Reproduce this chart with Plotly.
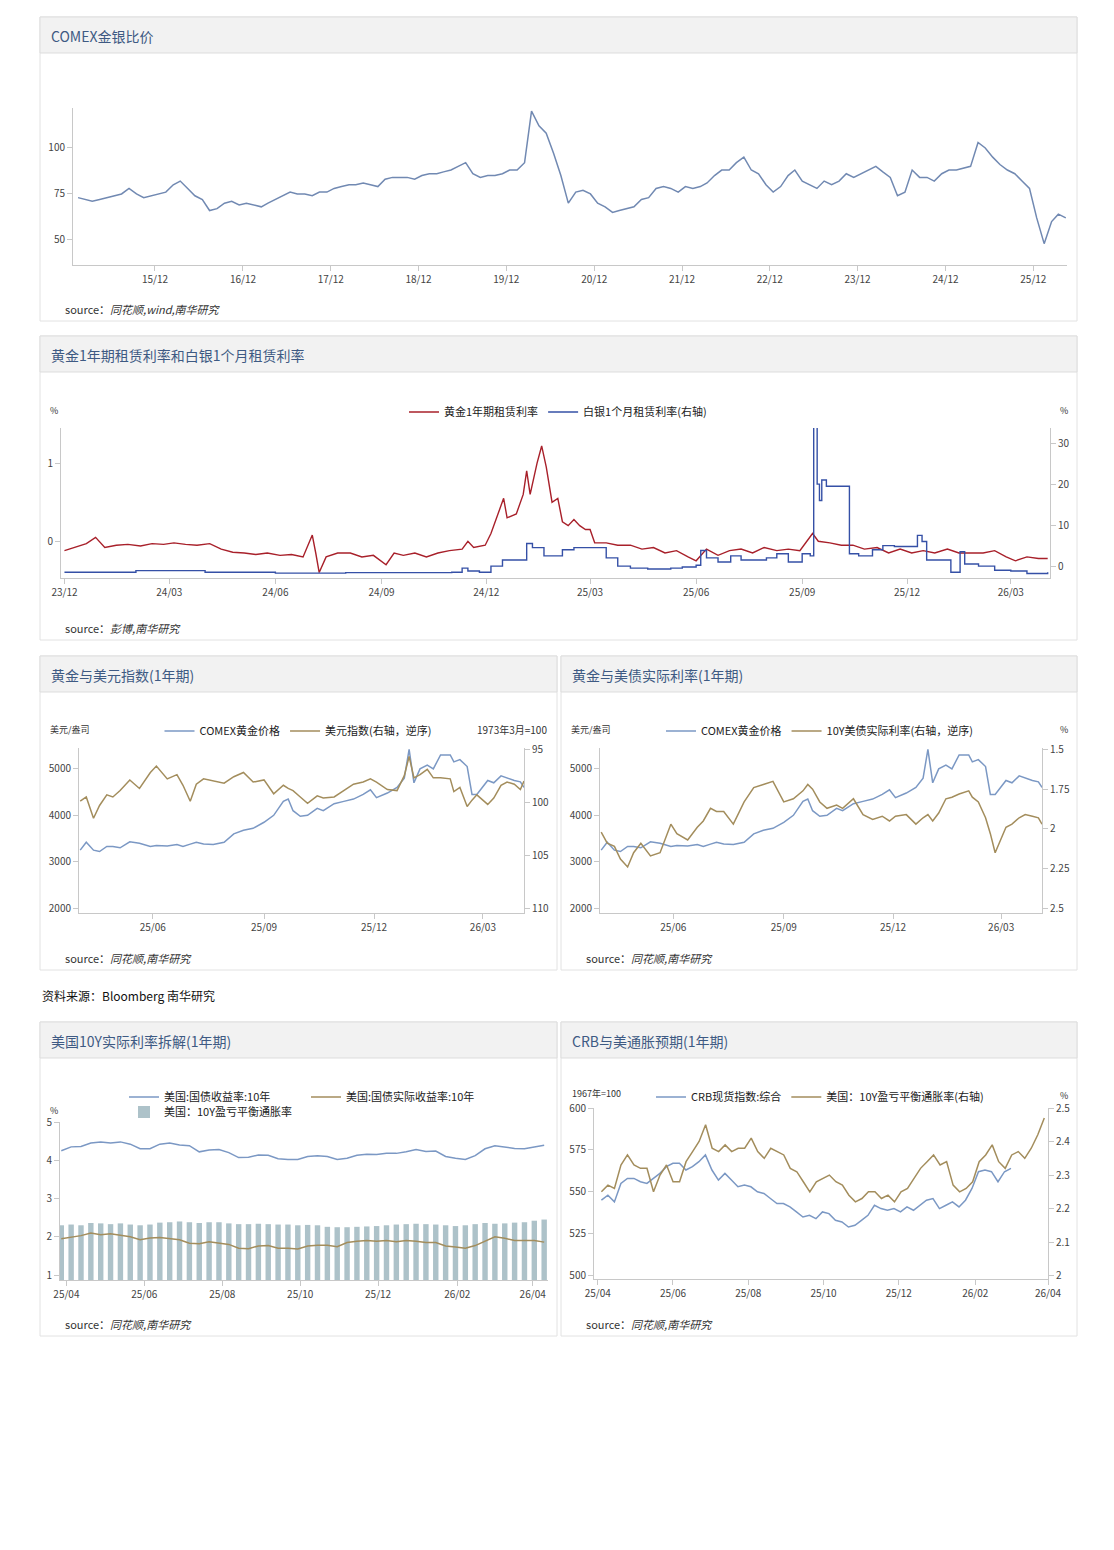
import plotly.graph_objects as go
import pandas as pd

W, H = 1114, 1550
def fx(p): return p / W
def fy(p): return 1 - p / H

FONT = "Noto Sans CJK SC"

# ---------------- data ----------------
# P1 COMEX gold/silver ratio, monthly 2015-01 .. 2026-04
ratio = [73,72,71,72,73,74,75,78,75,73,74,75,
         76,80,82,78,74,72,66,67,70,71,69,70,
         69,68,70,72,74,76,75,75,74,76,76,78,
         79,80,80,81,80,79,83,84,84,84,83,85,
         86,86,87,88,90,92,86,84,85,85,86,88,
         88,92,120,112,108,97,85,70,76,77,75,70,
         68,65,66,67,68,72,73,78,79,78,76,79,
         78,79,81,85,88,88,92,95,88,86,80,76,
         79,85,88,82,80,78,82,80,82,86,84,86,
         88,90,87,84,74,76,88,84,84,82,86,88,
         88,89,90,103,100,95,91,88,86,82,78,62,
         48,60,64,62]
ratio_dates = pd.date_range("2015-01-01", periods=len(ratio), freq="MS") + pd.Timedelta(days=14)
ratio_ticks = ["2015-12-01","2016-12-01","2017-12-01","2018-12-01","2019-12-01","2020-12-01",
               "2021-12-01","2022-12-01","2023-12-01","2024-12-01","2025-12-01"]
ratio_ticktext = ["15/12","16/12","17/12","18/12","19/12","20/12","21/12","22/12","23/12","24/12","25/12"]

# P2 lease rates
gold_lease_dates = ["2023-12-01","2023-12-10","2023-12-20","2023-12-28","2024-01-05","2024-01-15","2024-01-25",
  "2024-02-05","2024-02-15","2024-02-25","2024-03-05","2024-03-15","2024-03-25","2024-04-05","2024-04-15",
  "2024-04-25","2024-05-05","2024-05-15","2024-05-25","2024-06-05","2024-06-15","2024-06-25","2024-07-03",
  "2024-07-06","2024-07-09","2024-07-15","2024-07-25","2024-08-05","2024-08-15","2024-08-25","2024-09-05",
  "2024-09-12","2024-09-20","2024-09-30","2024-10-10","2024-10-20","2024-10-30","2024-11-10","2024-11-15",
  "2024-11-20","2024-11-30","2024-12-05","2024-12-10","2024-12-16","2024-12-19","2024-12-27","2025-01-02",
  "2025-01-05","2025-01-08","2025-01-14","2025-01-18","2025-01-22","2025-01-27","2025-02-01","2025-02-05",
  "2025-02-10","2025-02-15","2025-02-20","2025-02-25","2025-03-01","2025-03-05","2025-03-15","2025-03-25",
  "2025-04-05","2025-04-15","2025-04-25","2025-05-05","2025-05-15","2025-05-25","2025-06-01","2025-06-10",
  "2025-06-20","2025-06-30","2025-07-10","2025-07-20","2025-07-30","2025-08-10","2025-08-20","2025-08-30",
  "2025-09-05","2025-09-10","2025-09-15","2025-09-25","2025-10-05","2025-10-15","2025-10-25","2025-11-05",
  "2025-11-15","2025-11-25","2025-12-05","2025-12-15","2025-12-25","2026-01-05","2026-01-15","2026-01-25",
  "2026-02-05","2026-02-15","2026-02-25","2026-03-05","2026-03-15","2026-03-25","2026-04-02"]
gold_lease = [-0.12,-0.08,-0.03,0.05,-0.08,-0.05,-0.04,-0.06,-0.03,-0.04,-0.02,-0.04,-0.05,-0.03,-0.1,
  -0.14,-0.15,-0.17,-0.15,-0.18,-0.17,-0.2,0.08,-0.15,-0.4,-0.2,-0.15,-0.15,-0.2,-0.18,-0.3,
  -0.15,-0.18,-0.15,-0.2,-0.15,-0.12,-0.1,0.0,-0.08,-0.05,0.1,0.3,0.55,0.3,0.35,0.6,
  0.9,0.6,1.0,1.22,0.95,0.5,0.55,0.25,0.2,0.28,0.2,0.15,0.15,-0.02,-0.02,-0.05,
  -0.05,-0.1,-0.08,-0.15,-0.12,-0.2,-0.25,-0.1,-0.18,-0.12,-0.1,-0.15,-0.08,-0.12,-0.1,-0.12,
  0.0,0.1,0.0,-0.02,-0.05,-0.05,-0.1,-0.08,-0.15,-0.1,-0.15,-0.12,-0.15,-0.1,-0.15,-0.15,
  -0.15,-0.12,-0.2,-0.25,-0.2,-0.22,-0.22]
silver_lease_dates = ["2023-12-01","2024-02-01","2024-04-01","2024-06-01","2024-08-01","2024-10-01","2024-11-01",
  "2024-11-10","2024-11-15","2024-11-25","2024-12-05","2024-12-15","2024-12-28","2025-01-05","2025-01-10",
  "2025-01-20","2025-02-01","2025-02-05","2025-02-15","2025-02-25","2025-03-10","2025-03-15","2025-03-25",
  "2025-04-05","2025-04-20","2025-05-10","2025-05-20","2025-06-01","2025-06-05","2025-06-10","2025-06-20",
  "2025-07-01","2025-07-10","2025-07-20","2025-08-01","2025-08-10","2025-08-20","2025-09-01","2025-09-08",
  "2025-09-11","2025-09-14","2025-09-16","2025-09-18","2025-09-22","2025-10-10","2025-10-12","2025-10-20",
  "2025-11-01","2025-11-10","2025-11-20","2025-12-01","2025-12-10","2025-12-14","2025-12-18","2025-12-28",
  "2026-01-08","2026-01-16","2026-01-20","2026-02-01","2026-02-15","2026-03-01","2026-03-15","2026-04-02"]
silver_lease = [-1.5,-1.1,-1.5,-1.7,-1.6,-1.6,-1.5,-0.5,-1.2,-1.5,0.0,1.5,1.5,5.5,4.5,
  2.5,2.5,4.0,4.5,4.5,4.5,2.0,0.0,-0.5,-0.7,-0.5,-0.2,0.2,3.8,2.0,1.0,
  2.5,1.5,1.5,2.0,3.0,1.0,3.0,2.5,34.0,20.0,16.0,21.0,19.5,19.5,3.0,2.5,
  4.0,5.0,4.8,4.8,7.5,6.0,1.5,1.5,-1.5,3.5,0.5,0.0,-1.0,-1.2,-1.8,-1.5]

# P3/P4 (same dates), day offsets from 2025-04-01
p34_days = [1,6,12,17,23,28,34,42,50,59,64,73,81,86,92,97,103,111,120,128,136,144,153,161,169,173,177,
  183,189,197,202,211,219,227,235,241,246,255,263,269,273,277,282,288,293,299,307,310,315,321,325,329,
  338,343,349,354,360,365,368]
gold = [3250,3420,3250,3220,3330,3330,3300,3430,3400,3330,3350,3340,3370,3330,3380,3420,3380,3370,3420,
  3600,3680,3720,3850,4000,4300,4350,4100,3980,4000,4150,4100,4250,4300,4350,4450,4550,4380,4480,4600,
  4800,5420,4700,5000,5080,5000,5300,5300,5150,5200,5050,4450,4450,4750,4700,4850,4800,4750,4720,4600]
dxy = [99.9,99.5,101.5,100.3,99.3,99.5,98.9,97.9,98.7,97.2,96.6,97.8,97.4,98.4,99.9,98.3,97.8,98.0,98.2,
  97.6,97.2,98.1,97.9,99.2,98.4,98.7,98.9,99.5,100.1,99.4,99.6,99.5,98.9,98.3,98.1,97.8,98.1,98.8,98.9,
  97.5,95.7,97.7,97.4,96.9,97.7,97.7,97.8,99.0,98.6,100.4,99.8,99.3,100.2,99.6,98.4,98.1,98.3,98.8,98.0]
real_rate_p4 = [2.02,2.09,2.11,2.19,2.24,2.15,2.09,2.17,2.15,1.97,2.03,2.07,1.99,1.95,1.87,1.89,1.89,1.97,
  1.83,1.74,1.72,1.70,1.83,1.81,1.76,1.72,1.75,1.83,1.87,1.85,1.87,1.81,1.91,1.94,1.92,1.95,1.92,1.91,
  1.97,1.93,1.91,1.95,1.90,1.81,1.80,1.78,1.76,1.80,1.83,1.93,2.03,2.15,1.99,1.97,1.93,1.91,1.92,1.93,1.97]

# P5
us10y = [4.25,4.35,4.36,4.45,4.48,4.45,4.48,4.42,4.3,4.3,4.42,4.45,4.4,4.38,4.22,4.27,4.28,4.2,4.07,4.08,
  4.14,4.13,4.04,4.02,4.02,4.1,4.12,4.1,4.02,4.05,4.13,4.16,4.15,4.18,4.18,4.22,4.28,4.23,4.24,4.1,
  4.05,4.02,4.12,4.3,4.38,4.35,4.31,4.3,4.35,4.39]
us10y_real = [1.95,2.0,2.03,2.1,2.05,2.08,2.04,2.0,1.92,1.97,1.98,1.95,1.92,1.83,1.82,1.87,1.83,1.8,1.7,1.69,
  1.76,1.77,1.7,1.7,1.68,1.76,1.78,1.78,1.74,1.85,1.88,1.9,1.88,1.9,1.87,1.9,1.88,1.85,1.85,1.76,
  1.73,1.7,1.77,1.88,2.0,1.96,1.9,1.9,1.9,1.86]
breakeven_p5 = [2.3,2.32,2.3,2.36,2.35,2.33,2.35,2.32,2.3,2.32,2.37,2.38,2.4,2.38,2.36,2.38,2.38,2.35,2.33,2.33,
  2.34,2.33,2.32,2.32,2.3,2.31,2.3,2.26,2.25,2.25,2.26,2.27,2.28,2.3,2.32,2.33,2.34,2.33,2.32,2.3,
  2.28,2.3,2.33,2.36,2.34,2.35,2.37,2.38,2.42,2.45]
p5_dates = pd.date_range("2025-03-28", "2026-04-10", periods=len(us10y))

# P6
crb = [545,548,544,555,558,558,556,555,558,561,565,567,567,563,565,568,572,563,557,561,557,553,554,553,550,
  549,546,543,543,541,538,535,536,534,538,537,533,532,529,530,533,536,542,540,539,540,538,541,539,542,
  545,546,540,542,544,541,545,552,562,563,562,556,562,564]
crb_dates = pd.date_range("2025-04-04", "2026-03-02", periods=len(crb))
breakeven_p6 = [2.25,2.27,2.26,2.33,2.36,2.33,2.32,2.32,2.25,2.3,2.33,2.28,2.28,2.34,2.37,2.4,2.45,2.38,2.37,
  2.39,2.37,2.38,2.38,2.41,2.37,2.35,2.38,2.37,2.36,2.32,2.31,2.28,2.25,2.28,2.29,2.3,2.28,2.27,2.24,2.22,
  2.23,2.25,2.25,2.23,2.24,2.22,2.25,2.26,2.29,2.32,2.34,2.36,2.33,2.34,2.27,2.25,2.26,2.28,2.34,2.36,
  2.39,2.34,2.32,2.36,2.37,2.35,2.38,2.42,2.47]
be6_dates = pd.date_range("2025-04-04", "2026-03-29", periods=len(breakeven_p6))

p34_dates = pd.to_datetime("2025-04-01") + pd.to_timedelta(p34_days, unit="D")

# ---------------- figure ----------------
fig = go.Figure()
C_BLUE = "#7b98c4"
C_KHAKI = "#a38d5c"

fig.add_trace(go.Scatter(x=ratio_dates, y=ratio, name="COMEX金银比价", mode="lines",
    line=dict(color="#7189b2", width=1.5), xaxis="x", yaxis="y", legend="legend"))

fig.add_trace(go.Scatter(x=pd.to_datetime(gold_lease_dates), y=gold_lease, name="黄金1年期租赁利率", mode="lines",
    line=dict(color="#a8202a", width=1.4), xaxis="x2", yaxis="y2", legend="legend2"))
fig.add_trace(go.Scatter(x=pd.to_datetime(silver_lease_dates), y=silver_lease, name="白银1个月租赁利率(右轴)",
    mode="lines", line=dict(color="#3550a6", width=1.4, shape="hv"), xaxis="x2", yaxis="y3", legend="legend2"))

fig.add_trace(go.Scatter(x=p34_dates, y=gold, name="COMEX黄金价格", mode="lines",
    line=dict(color=C_BLUE, width=1.5), xaxis="x3", yaxis="y4", legend="legend3"))
fig.add_trace(go.Scatter(x=p34_dates, y=dxy, name="美元指数(右轴，逆序)", mode="lines",
    line=dict(color=C_KHAKI, width=1.5), xaxis="x3", yaxis="y5", legend="legend3"))

fig.add_trace(go.Scatter(x=p34_dates, y=gold, name="COMEX黄金价格", mode="lines",
    line=dict(color=C_BLUE, width=1.5), xaxis="x4", yaxis="y6", legend="legend4"))
fig.add_trace(go.Scatter(x=p34_dates, y=real_rate_p4, name="10Y美债实际利率(右轴，逆序)", mode="lines",
    line=dict(color=C_KHAKI, width=1.5), xaxis="x4", yaxis="y7", legend="legend4"))

fig.add_trace(go.Scatter(x=p5_dates, y=us10y, name="美国:国债收益率:10年", mode="lines",
    line=dict(color=C_BLUE, width=1.5), xaxis="x5", yaxis="y8", legend="legend5"))
fig.add_trace(go.Scatter(x=p5_dates, y=us10y_real, name="美国:国债实际收益率:10年", mode="lines",
    line=dict(color=C_KHAKI, width=1.5), xaxis="x5", yaxis="y8", legend="legend5"))
fig.add_trace(go.Bar(x=p5_dates, y=breakeven_p5, name="美国：10Y盈亏平衡通胀率",
    marker=dict(color="#adc2c9", line=dict(width=0)), xaxis="x5", yaxis="y8", legend="legend7"))

fig.add_trace(go.Scatter(x=crb_dates, y=crb, name="CRB现货指数:综合", mode="lines",
    line=dict(color=C_BLUE, width=1.5), xaxis="x6", yaxis="y9", legend="legend6"))
fig.add_trace(go.Scatter(x=be6_dates, y=breakeven_p6, name="美国：10Y盈亏平衡通胀率(右轴)", mode="lines",
    line=dict(color=C_KHAKI, width=1.5), xaxis="x6", yaxis="y10", legend="legend6"))

TF = dict(family=FONT, size=10, color="#444")
def xax(l, r, b, **kw):
    d = dict(domain=[fx(l), fx(r)], showline=True, linecolor="#c8c8c8", linewidth=1,
             ticks="outside", tickcolor="#c8c8c8", ticklen=5, showgrid=False, zeroline=False, tickfont=TF,
             type="date")
    d.update(kw); return d
def yax(t, b, **kw):
    d = dict(domain=[fy(b), fy(t)], showline=True, linecolor="#c8c8c8", linewidth=1, ticks="outside",
             tickcolor="#c8c8c8", ticklen=5, showgrid=False, zeroline=False, tickfont=TF)
    d.update(kw); return d

lay = dict(width=W, height=H, margin=dict(l=0, r=0, t=0, b=0, autoexpand=False), paper_bgcolor="white",
           plot_bgcolor="white", font=dict(family=FONT, size=11, color="#333"), bargap=0.45)

lay["xaxis"] = xax(73, 1067, 265, anchor="y", range=["2014-12-25", "2026-04-20"], tickvals=ratio_ticks,
                   ticktext=ratio_ticktext)
lay["yaxis"] = yax(108, 265, anchor="x", range=[36.4, 121.7], tickvals=[50, 75, 100])

lay["xaxis2"] = xax(61, 1050, 578, anchor="y2", range=["2023-11-28", "2026-04-04"], tick0="2023-12-01",
                    dtick="M3", tickformat="%y/%m")
lay["yaxis2"] = yax(428, 578, anchor="x2", range=[-0.47, 1.45], tickvals=[0, 1])
lay["yaxis3"] = yax(428, 578, anchor="x2", overlaying="y2", side="right", range=[-2.9, 33.7],
                    tickvals=[0, 10, 20, 30])

p3x = dict(range=["2025-04-01", "2026-04-04"], tickvals=["2025-06-01", "2025-09-01", "2025-12-01", "2026-03-01"],
           tickformat="%y/%m")
lay["xaxis3"] = xax(79, 524, 913, anchor="y4", **p3x)
lay["yaxis4"] = yax(748, 913, anchor="x3", range=[1896, 5450], tickvals=[2000, 3000, 4000, 5000])
lay["yaxis5"] = yax(748, 913, anchor="x3", overlaying="y4", side="right", range=[110.4, 94.9],
                    tickvals=[95, 100, 105, 110])
lay["xaxis4"] = xax(600, 1042, 913, anchor="y6", **p3x)
lay["yaxis6"] = yax(748, 913, anchor="x4", range=[1896, 5450], tickvals=[2000, 3000, 4000, 5000])
lay["yaxis7"] = yax(748, 913, anchor="x4", overlaying="y6", side="right", range=[2.53, 1.49],
                    tickvals=[1.5, 1.75, 2, 2.25, 2.5])

lay["xaxis5"] = xax(60, 548, 1280, anchor="y8", range=["2025-03-27", "2026-04-13"], tick0="2025-04-01",
                    dtick="M2", tickformat="%y/%m")
lay["yaxis8"] = yax(1122, 1280, anchor="x5", range=[0.87, 5.0], tickvals=[1, 2, 3, 4, 5])

lay["xaxis6"] = xax(594, 1048, 1279, anchor="y9", range=["2025-03-29", "2026-04-01"], tick0="2025-04-01",
                    dtick="M2", tickformat="%y/%m")
lay["yaxis9"] = yax(1108, 1279, anchor="x6", range=[498, 600], tickvals=[500, 525, 550, 575, 600])
lay["yaxis10"] = yax(1108, 1279, anchor="x6", overlaying="y9", side="right", range=[1.99, 2.5],
                     tickvals=[2, 2.1, 2.2, 2.3, 2.4, 2.5])

LF = dict(family=FONT, size=11, color="#222")
def leg(x, y, xanchor="center", **kw):
    d = dict(x=fx(x), y=fy(y), xanchor=xanchor, yanchor="middle", orientation="h", bgcolor="rgba(0,0,0,0)",
             font=LF, itemwidth=30, tracegroupgap=0)
    d.update(kw); return d
lay["legend"] = leg(558, 93)
lay["legend2"] = leg(558, 412)
lay["legend3"] = leg(298, 731)
lay["legend4"] = leg(820, 731)
lay["legend5"] = leg(124, 1097, xanchor="left", entrywidth=137)
lay["legend7"] = leg(124, 1112, xanchor="left")
lay["legend6"] = leg(820, 1097)

shapes, annos = [], []
def panel(l, t, r, b, title):
    shapes.append(dict(type="rect", xref="paper", yref="paper", x0=fx(l), x1=fx(r), y0=fy(b), y1=fy(t),
                       line=dict(color="#e2e2e2", width=1), fillcolor="rgba(0,0,0,0)", layer="below"))
    shapes.append(dict(type="rect", xref="paper", yref="paper", x0=fx(l), x1=fx(r), y0=fy(t + 36), y1=fy(t),
                       line=dict(color="#dddddd", width=1), fillcolor="#f2f2f2", layer="below"))
    annos.append(dict(text=title, x=fx(l + 9), y=fy(t + 19), xref="paper", yref="paper", xanchor="left",
                      yanchor="middle", showarrow=False, font=dict(family=FONT, size=14, color="#3e5a83")))
def text(s, x, y, xanchor="left", size=10, color="#333"):
    annos.append(dict(text=s, x=fx(x), y=fy(y), xref="paper", yref="paper", xanchor=xanchor, yanchor="middle",
                      showarrow=False, font=dict(family=FONT, size=size, color=color)))

panel(40, 17, 1077, 321, "COMEX金银比价")
panel(40, 336, 1077, 640, "黄金1年期租赁利率和白银1个月租赁利率")
panel(40, 656, 557, 970, "黄金与美元指数(1年期)")
panel(561, 656, 1077, 970, "黄金与美债实际利率(1年期)")
panel(40, 1022, 557, 1336, "美国10Y实际利率拆解(1年期)")
panel(561, 1022, 1077, 1336, "CRB与美通胀预期(1年期)")

text("source：<i>同花顺,wind,南华研究</i>", 63, 309, size=11)
text("source：<i>彭博,南华研究</i>", 63, 628, size=11)
text("source：<i>同花顺,南华研究</i>", 63, 958, size=11)
text("source：<i>同花顺,南华研究</i>", 584, 958, size=11)
text("source：<i>同花顺,南华研究</i>", 63, 1324, size=11)
text("source：<i>同花顺,南华研究</i>", 584, 1324, size=11)

text("%", 48, 410, size=9)
text("%", 1070, 410, xanchor="right", size=9)
text("美元/盎司", 48, 729, size=9)
text("1973年3月=100", 549, 729, xanchor="right", size=10)
text("美元/盎司", 569, 729, size=9)
text("%", 1070, 729, xanchor="right", size=9)
text("%", 48, 1110, size=9)
text("1967年=100", 570, 1093, size=9)
text("%", 1070, 1095, xanchor="right", size=9)

text("资料来源：Bloomberg 南华研究", 40, 995, size=12, color="#111")

lay["shapes"] = shapes
lay["annotations"] = annos
fig.update_layout(**lay)
fig.write_html("out.html", config={"displayModeBar": False, "responsive": False})

with open("out.html", encoding="utf-8") as f:
    html = f.read()
css = ("<style>html,body{margin:0;padding:0;overflow:hidden;width:1114px;height:1550px;}"
       ".plotly-graph-div{margin:0!important;}</style>")
html = html.replace("<head>", "<head>" + css, 1)
with open("out.html", "w", encoding="utf-8") as f:
    f.write(html)
